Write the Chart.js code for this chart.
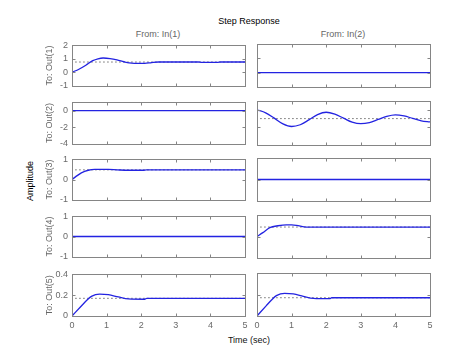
<!DOCTYPE html>
<html><head><meta charset="utf-8">
<script src="https://cdn.jsdelivr.net/npm/chart.js@4/dist/chart.umd.min.js"></script>
<style>
html,body{margin:0;padding:0;background:#fff;}
#fig{position:relative;width:474px;height:355px;overflow:hidden;font-family:"Liberation Sans",Arial,sans-serif;}
canvas{position:absolute;}
.lbl{position:absolute;font-size:9px;line-height:11px;white-space:nowrap;transform:translate(-50%,-50%);}
.rot{transform:translate(-50%,-50%) rotate(-90deg);}
</style></head>
<body><div id="fig">
<div class="lbl" style="left:249px;top:21px;color:#000">Step Response</div>
<div class="lbl" style="left:158px;top:33.5px;color:#666">From: In(1)</div>
<div class="lbl" style="left:343px;top:33.5px;color:#666">From: In(2)</div>
<div class="lbl" style="left:249px;top:340px;color:#111">Time (sec)</div>
<div class="lbl rot" style="left:30px;top:181px;color:#000">Amplitude</div>
</div>
<script>
// ---- data ----
const xTicks = [0, 1, 2, 3, 4, 5];
const rowLabels = ['To: Out(1)', 'To: Out(2)', 'To: Out(3)', 'To: Out(4)', 'To: Out(5)'];
const yTicks1 = [-1, 0, 1, 2];
const yTicks2 = [-4, -2, 0];
const yTicks3 = [-1, 0, 1];
const yTicks4 = [-1, 0, 1];
const yTicks5 = [0, 0.2, 0.4];
const yRanges = [[-1, 2], [-4, 1], [-1, 1], [-1, 1], [0, 0.4]];

const tZero = [0, 5];
const vZero = [0, 0];

const t11 = [0, 0.2, 0.4, 0.6, 0.75, 0.9, 1.1, 1.3, 1.5, 1.65, 1.8, 2.1, 2.3, 2.5, 3.65, 3.75, 4.2, 4.3, 5];
const v11 = [0, 0.22, 0.52, 0.86, 1.0, 1.06, 1.02, 0.92, 0.78, 0.69, 0.66, 0.66, 0.72, 0.76, 0.76, 0.73, 0.73, 0.76, 0.76];
const ss11 = 0.76;

const t22 = [0, 0.25, 0.5, 0.75, 1.0, 1.25, 1.5, 1.75, 2.0, 2.25, 2.5, 2.75, 3.0, 3.25, 3.5, 3.75, 4.0, 4.25, 4.5, 4.75, 5.0];
const v22 = [0, -0.35, -0.95, -1.6, -1.9, -1.7, -1.15, -0.55, -0.28, -0.5, -0.95, -1.4, -1.58, -1.45, -1.1, -0.75, -0.58, -0.7, -0.98, -1.25, -1.38];
const ss22 = -1;

const t31 = [0, 0.1, 0.27, 0.47, 0.66, 1.05, 1.3, 1.63, 2.06, 2.15, 5];
const v31 = [0, 0.13, 0.33, 0.46, 0.5, 0.5, 0.48, 0.46, 0.46, 0.48, 0.48];
const ss31 = 0.48;

const t42 = [0, 0.17, 0.37, 0.61, 0.85, 1.0, 1.14, 1.43, 5];
const v42 = [0, 0.18, 0.41, 0.5, 0.54, 0.54, 0.52, 0.44, 0.44];
const ss42 = 0.44;

const t51 = [0, 0.27, 0.42, 0.56, 0.8, 1.05, 1.34, 1.63, 2.1, 2.16, 5];
const v51 = [0, 0.096, 0.149, 0.189, 0.211, 0.205, 0.183, 0.164, 0.161, 0.17, 0.17];
const ss51 = 0.17;

const t52 = [0, 0.27, 0.42, 0.56, 0.8, 1.05, 1.34, 1.63, 2.1, 2.16, 5];
const v52 = [0, 0.096, 0.149, 0.189, 0.211, 0.205, 0.183, 0.164, 0.161, 0.17, 0.17];
const ss52 = 0.17;

const steadyStart = 0.1;
const tEnd = 5;

// ---- layout ----
const plotTop = [44, 101, 158, 215, 273];
const plotBottom = [87, 145, 201, 258, 316];
const colCanvas = [{left: 0, width: 253, axisW: 72}, {left: 243, width: 195, axisW: 14}];
const PAD_R = 8;
const BLUE = 'rgb(35,35,225)';
const GREY = '#858585';

Chart.defaults.font.family = '"Liberation Sans", Arial, sans-serif';
Chart.defaults.font.size = 9;
Chart.defaults.color = '#666';

const boxPlugin = {
  id: 'matlabBox',
  afterDraw(chart) {
    const {ctx, chartArea: a, scales} = chart;
    ctx.save();
    ctx.strokeStyle = GREY;
    ctx.lineWidth = 1;
    const L = Math.round(a.left) + 0.5, R = Math.round(a.right) + 0.5;
    const T = Math.round(a.top) + 0.5, B = Math.round(a.bottom) + 0.5;
    ctx.strokeRect(L, T, R - L, B - T);
    ctx.beginPath();
    scales.x.ticks.forEach(t => {
      const px = Math.round(scales.x.getPixelForValue(t.value)) + 0.5;
      ctx.moveTo(px, B); ctx.lineTo(px, B - 3);
      ctx.moveTo(px, T); ctx.lineTo(px, T + 3);
    });
    scales.y.ticks.forEach(t => {
      const py = Math.round(scales.y.getPixelForValue(t.value)) + 0.5;
      ctx.moveTo(L, py); ctx.lineTo(L + 3, py);
      ctx.moveTo(R, py); ctx.lineTo(R - 3, py);
    });
    ctx.stroke();
    ctx.restore();
  }
};

const series = [
  [[t11, v11, ss11], [tZero, vZero, null]],
  [[tZero, vZero, null], [t22, v22, ss22]],
  [[t31, v31, ss31], [tZero, vZero, null]],
  [[tZero, vZero, null], [t42, v42, ss42]],
  [[t51, v51, ss51], [t52, v52, ss52]]
];
const yTickSets = [yTicks1, yTicks2, yTicks3, yTicks4, yTicks5];

const fig = document.getElementById('fig');
for (let r = 0; r < 5; r++) {
  for (let c = 0; c < 2; c++) {
    const cc = colCanvas[c];
    const bottomRow = r === 4;
    const xAxisH = bottomRow ? 22 : 8;
    const padTop = 8;
    const cv = document.createElement('canvas');
    const h = (plotBottom[r] - plotTop[r]) + padTop + xAxisH;
    cv.width = cc.width; cv.height = h;
    cv.style.left = cc.left + 'px';
    cv.style.top = (plotTop[r] - padTop) + 'px';
    fig.appendChild(cv);
    const [tArr, vArr, ss] = series[r][c];
    const datasets = [{
      data: tArr.map((t, i) => ({x: t, y: vArr[i]})),
      borderColor: BLUE, borderWidth: 1.3, pointRadius: 0,
      cubicInterpolationMode: 'monotone', fill: false
    }];
    if (ss !== null) {
      datasets.push({
        data: [{x: steadyStart, y: ss}, {x: tEnd, y: ss}],
        borderColor: '#222', borderWidth: 1, borderDash: [1, 3], pointRadius: 0, fill: false
      });
    }
    const ticksY = yTickSets[r];
    new Chart(cv, {
      type: 'line',
      data: {datasets},
      plugins: [boxPlugin],
      options: {
        responsive: false, animation: false, devicePixelRatio: 1,
        layout: {padding: {top: padTop, right: PAD_R, bottom: 0, left: 0}},
        plugins: {legend: {display: false}, tooltip: {enabled: false}},
        scales: {
          x: {
            type: 'linear', min: 0, max: 5, offset: false,
            afterBuildTicks: s => { s.ticks = xTicks.map(v => ({value: v})); },
            afterFit: s => { s.height = xAxisH; },
            grid: {display: false, drawTicks: false},
            border: {display: false},
            ticks: {display: bottomRow, padding: 4, color: '#6a6a6a', autoSkip: false, maxRotation: 0}
          },
          y: {
            type: 'linear', min: yRanges[r][0], max: yRanges[r][1],
            afterBuildTicks: s => { s.ticks = ticksY.map(v => ({value: v})); },
            afterFit: s => { s.width = cc.axisW; },
            grid: {display: false, drawTicks: false},
            border: {display: false},
            ticks: {display: c === 0, padding: 4, color: '#6a6a6a', autoSkip: false},
            title: {display: c === 0, text: rowLabels[r], color: '#666', font: {size: 9}, padding: {top: 44, bottom: 0}}
          }
        }
      }
    });
  }
}
</script>
</body></html>
